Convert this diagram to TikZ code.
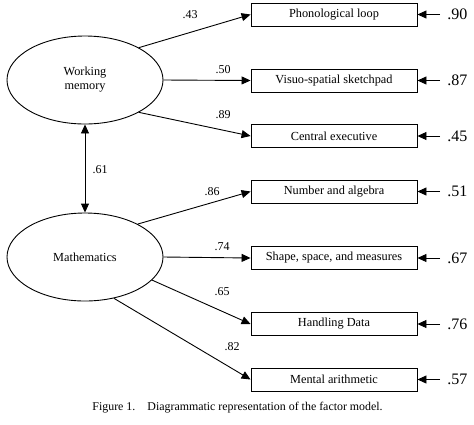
\documentclass[tikz,border=0pt]{standalone}
\usepackage{fontspec}
\setmainfont{Liberation Serif}
\usetikzlibrary{arrows.meta,shapes.geometric}
\begin{document}
\begin{tikzpicture}[x=1pt,y=-1pt,
  line width=0.9pt,
  latent/.style={draw,ellipse,minimum width=156pt,minimum height=88pt,inner sep=0pt,align=center,font=\fontsize{12.3}{14}\selectfont},
  obs/.style={draw,rectangle,minimum width=166pt,minimum height=23pt,inner sep=0pt,font=\fontsize{12.3}{14}\selectfont},
  coef/.style={inner sep=0pt,font=\fontsize{12}{14}\selectfont},
  err/.style={anchor=west,inner xsep=7pt,inner ysep=0pt,font=\fontsize{16}{18}\selectfont},
  arr/.style={-{Triangle[length=9pt,width=8pt]}},
  darr/.style={{Triangle[length=9pt,width=8pt]}-{Triangle[length=9pt,width=8pt]}}
]
\useasboundingbox[fill=white] (0,0) rectangle (474,424);

\node[latent] (wm) at (85,80) {Working\\memory};
\node[latent] (ma) at (85,257) {Mathematics};

\node[obs] (b1) at (334,14.5) {Phonological loop};
\node[obs] (b2) at (334,80.5) {Visuo-spatial sketchpad};
\node[obs] (b3) at (334,136) {Central executive};
\node[obs] (b4) at (334,191.5) {Number and algebra};
\node[obs] (b5) at (334,258) {Shape, space, and measures};
\node[obs] (b6) at (334,324) {Handling Data};
\node[obs] (b7) at (334,379.5) {Mental arithmetic};

\node[err] (e1) at (440,14.5) {.90};
\node[err] (e2) at (440,80.5) {.87};
\node[err] (e3) at (440,136) {.45};
\node[err] (e4) at (440,191.5) {.51};
\node[err] (e5) at (440,258) {.67};
\node[err] (e6) at (440,324) {.76};
\node[err] (e7) at (440,379.5) {.57};

\foreach \i in {1,...,7} {\draw[arr] (e\i.west) -- (b\i.east);}

\draw[arr] (wm.31) -- (b1.west);
\draw[arr] (wm.east) -- (b2.west);
\draw[arr] (wm.-31) -- (b3.west);
\draw[arr] (ma.32) -- (b4.west);
\draw[arr] (ma.east) -- (b5.west);
\draw[arr] (ma.-19) -- (b6.west);
\draw[arr] (ma.-55) -- (b7.west);
\draw[darr] (wm.south) -- (ma.north);

\node[coef] (c1) at (190,15) {.43};
\node[coef] (c2) at (223,70) {.50};
\node[coef] (c3) at (223,115) {.89};
\node[coef] (c0) at (100,170) {.61};
\node[coef] (c4) at (212,192) {.86};
\node[coef] (c5) at (222,247) {.74};
\node[coef] (c6) at (222,292) {.65};
\node[coef] (c7) at (232,347) {.82};

\node[anchor=west,inner sep=0pt,font=\fontsize{11.9}{14}\selectfont] (cap) at (92,408) {Figure 1.\hspace{12pt}Diagrammatic representation of the factor model.};
\end{tikzpicture}
\end{document}
